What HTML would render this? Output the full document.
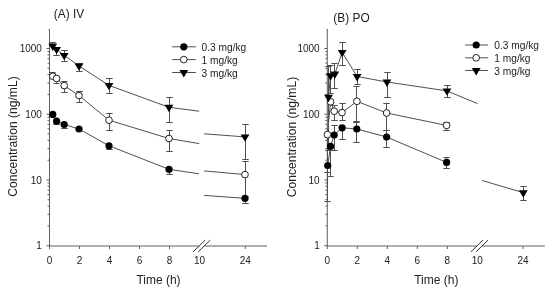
<!DOCTYPE html>
<html><head><meta charset="utf-8"><style>
html,body{margin:0;padding:0;background:#fff;}
svg{display:block;}
text{font-family:"Liberation Sans", Arial, Helvetica, sans-serif;fill:#222;}
</style></head><body>
<svg width="550" height="292" viewBox="0 0 550 292">
<rect width="550" height="292" fill="#fff"/>
<text x="53.8" y="17.6" font-size="11.9">(A) IV</text>
<line x1="49.5" y1="29.2" x2="49.5" y2="246.4" stroke="#606060" stroke-width="1"/>
<line x1="46.5" y1="245.70" x2="49.5" y2="245.70" stroke="#606060" stroke-width="1"/>
<line x1="47.5" y1="225.91" x2="49.5" y2="225.91" stroke="#606060" stroke-width="1"/>
<line x1="47.5" y1="214.34" x2="49.5" y2="214.34" stroke="#606060" stroke-width="1"/>
<line x1="47.5" y1="206.13" x2="49.5" y2="206.13" stroke="#606060" stroke-width="1"/>
<line x1="47.5" y1="199.76" x2="49.5" y2="199.76" stroke="#606060" stroke-width="1"/>
<line x1="47.5" y1="194.55" x2="49.5" y2="194.55" stroke="#606060" stroke-width="1"/>
<line x1="47.5" y1="190.15" x2="49.5" y2="190.15" stroke="#606060" stroke-width="1"/>
<line x1="47.5" y1="186.34" x2="49.5" y2="186.34" stroke="#606060" stroke-width="1"/>
<line x1="47.5" y1="182.98" x2="49.5" y2="182.98" stroke="#606060" stroke-width="1"/>
<line x1="46.5" y1="179.97" x2="49.5" y2="179.97" stroke="#606060" stroke-width="1"/>
<line x1="47.5" y1="160.18" x2="49.5" y2="160.18" stroke="#606060" stroke-width="1"/>
<line x1="47.5" y1="148.61" x2="49.5" y2="148.61" stroke="#606060" stroke-width="1"/>
<line x1="47.5" y1="140.40" x2="49.5" y2="140.40" stroke="#606060" stroke-width="1"/>
<line x1="47.5" y1="134.03" x2="49.5" y2="134.03" stroke="#606060" stroke-width="1"/>
<line x1="47.5" y1="128.82" x2="49.5" y2="128.82" stroke="#606060" stroke-width="1"/>
<line x1="47.5" y1="124.42" x2="49.5" y2="124.42" stroke="#606060" stroke-width="1"/>
<line x1="47.5" y1="120.61" x2="49.5" y2="120.61" stroke="#606060" stroke-width="1"/>
<line x1="47.5" y1="117.25" x2="49.5" y2="117.25" stroke="#606060" stroke-width="1"/>
<line x1="46.5" y1="114.24" x2="49.5" y2="114.24" stroke="#606060" stroke-width="1"/>
<line x1="47.5" y1="94.45" x2="49.5" y2="94.45" stroke="#606060" stroke-width="1"/>
<line x1="47.5" y1="82.88" x2="49.5" y2="82.88" stroke="#606060" stroke-width="1"/>
<line x1="47.5" y1="74.67" x2="49.5" y2="74.67" stroke="#606060" stroke-width="1"/>
<line x1="47.5" y1="68.30" x2="49.5" y2="68.30" stroke="#606060" stroke-width="1"/>
<line x1="47.5" y1="63.09" x2="49.5" y2="63.09" stroke="#606060" stroke-width="1"/>
<line x1="47.5" y1="58.69" x2="49.5" y2="58.69" stroke="#606060" stroke-width="1"/>
<line x1="47.5" y1="54.88" x2="49.5" y2="54.88" stroke="#606060" stroke-width="1"/>
<line x1="47.5" y1="51.52" x2="49.5" y2="51.52" stroke="#606060" stroke-width="1"/>
<line x1="46.5" y1="48.51" x2="49.5" y2="48.51" stroke="#606060" stroke-width="1"/>
<line x1="48.5" y1="29.70" x2="49.5" y2="29.70" stroke="#606060" stroke-width="1"/>
<text x="41.9" y="249.30" text-anchor="end" font-size="10">1</text>
<text x="41.9" y="183.57" text-anchor="end" font-size="10">10</text>
<text x="41.9" y="117.84" text-anchor="end" font-size="10">100</text>
<text x="41.9" y="52.11" text-anchor="end" font-size="10">1000</text>
<line x1="49.5" y1="246" x2="199.1" y2="246" stroke="#606060" stroke-width="1"/>
<line x1="204.2" y1="246" x2="267" y2="246" stroke="#606060" stroke-width="1"/>
<line x1="49.5" y1="246" x2="49.5" y2="249" stroke="#606060" stroke-width="1"/>
<line x1="79.5" y1="246" x2="79.5" y2="249" stroke="#606060" stroke-width="1"/>
<line x1="109.5" y1="246" x2="109.5" y2="249" stroke="#606060" stroke-width="1"/>
<line x1="139.5" y1="246" x2="139.5" y2="249" stroke="#606060" stroke-width="1"/>
<line x1="169.5" y1="246" x2="169.5" y2="249" stroke="#606060" stroke-width="1"/>
<line x1="245.3" y1="246" x2="245.3" y2="249" stroke="#606060" stroke-width="1"/>
<line x1="193.1" y1="251.9" x2="205.1" y2="240.1" stroke="#333" stroke-width="1"/>
<line x1="198.2" y1="251.9" x2="210.2" y2="240.1" stroke="#333" stroke-width="1"/>
<text x="49.5" y="263.6" text-anchor="middle" font-size="10">0</text>
<text x="79.5" y="263.6" text-anchor="middle" font-size="10">2</text>
<text x="109.5" y="263.6" text-anchor="middle" font-size="10">4</text>
<text x="139.5" y="263.6" text-anchor="middle" font-size="10">6</text>
<text x="169.5" y="263.6" text-anchor="middle" font-size="10">8</text>
<text x="199.5" y="263.6" text-anchor="middle" font-size="10">10</text>
<text x="245.3" y="263.6" text-anchor="middle" font-size="10">24</text>
<text x="158.5" y="283.6" text-anchor="middle" font-size="12">Time (h)</text>
<text transform="translate(17.2,136.5) rotate(-90)" text-anchor="middle" font-size="12.1">Concentration (ng/mL)</text>
<polyline points="52.80,114.40 56.60,121.20 64.20,124.50 79.00,129.00 109.00,145.80 169.00,169.30 199.10,173.80" fill="none" stroke="#505050" stroke-width="1"/>
<polyline points="204.10,195.40 245.00,198.30" fill="none" stroke="#505050" stroke-width="1"/>
<polyline points="52.80,76.30 56.60,78.50 64.20,85.60 79.00,95.50 109.00,120.20 169.00,138.50 199.10,143.60" fill="none" stroke="#505050" stroke-width="1"/>
<polyline points="204.10,170.90 245.00,174.60" fill="none" stroke="#505050" stroke-width="1"/>
<polyline points="52.80,46.00 56.60,49.40 64.20,55.40 79.00,65.90 109.00,85.40 169.00,107.30 199.10,111.20" fill="none" stroke="#505050" stroke-width="1"/>
<polyline points="204.10,133.80 245.00,136.90" fill="none" stroke="#505050" stroke-width="1"/>
<line x1="52.5" y1="42.6" x2="52.5" y2="46.0" stroke="#505050" stroke-width="1"/>
<line x1="49.30" y1="42.5" x2="55.70" y2="42.5" stroke="#505050" stroke-width="1"/>
<line x1="52.5" y1="72.3" x2="52.5" y2="76.3" stroke="#505050" stroke-width="1"/>
<line x1="49.30" y1="72.5" x2="55.70" y2="72.5" stroke="#505050" stroke-width="1"/>
<line x1="56.5" y1="49.4" x2="56.5" y2="55.6" stroke="#505050" stroke-width="1"/>
<line x1="53.30" y1="55.5" x2="59.70" y2="55.5" stroke="#505050" stroke-width="1"/>
<line x1="56.5" y1="78.5" x2="56.5" y2="83.6" stroke="#505050" stroke-width="1"/>
<line x1="53.30" y1="83.5" x2="59.70" y2="83.5" stroke="#505050" stroke-width="1"/>
<line x1="56.5" y1="121.2" x2="56.5" y2="124.9" stroke="#505050" stroke-width="1"/>
<line x1="53.30" y1="124.5" x2="59.70" y2="124.5" stroke="#505050" stroke-width="1"/>
<line x1="64.5" y1="50.5" x2="64.5" y2="61.2" stroke="#505050" stroke-width="1"/>
<line x1="61.30" y1="50.5" x2="67.70" y2="50.5" stroke="#505050" stroke-width="1"/>
<line x1="61.30" y1="61.5" x2="67.70" y2="61.5" stroke="#505050" stroke-width="1"/>
<line x1="64.5" y1="81.7" x2="64.5" y2="92.0" stroke="#505050" stroke-width="1"/>
<line x1="61.30" y1="81.5" x2="67.70" y2="81.5" stroke="#505050" stroke-width="1"/>
<line x1="61.30" y1="92.5" x2="67.70" y2="92.5" stroke="#505050" stroke-width="1"/>
<line x1="64.5" y1="124.5" x2="64.5" y2="128.3" stroke="#505050" stroke-width="1"/>
<line x1="61.30" y1="128.5" x2="67.70" y2="128.5" stroke="#505050" stroke-width="1"/>
<line x1="79.5" y1="63.2" x2="79.5" y2="71.8" stroke="#505050" stroke-width="1"/>
<line x1="76.30" y1="63.5" x2="82.70" y2="63.5" stroke="#505050" stroke-width="1"/>
<line x1="76.30" y1="71.5" x2="82.70" y2="71.5" stroke="#505050" stroke-width="1"/>
<line x1="79.5" y1="91.7" x2="79.5" y2="102.0" stroke="#505050" stroke-width="1"/>
<line x1="76.30" y1="91.5" x2="82.70" y2="91.5" stroke="#505050" stroke-width="1"/>
<line x1="76.30" y1="102.5" x2="82.70" y2="102.5" stroke="#505050" stroke-width="1"/>
<line x1="109.5" y1="78.6" x2="109.5" y2="93.8" stroke="#505050" stroke-width="1"/>
<line x1="106.30" y1="78.5" x2="112.70" y2="78.5" stroke="#505050" stroke-width="1"/>
<line x1="106.30" y1="93.5" x2="112.70" y2="93.5" stroke="#505050" stroke-width="1"/>
<line x1="109.5" y1="113.5" x2="109.5" y2="130.7" stroke="#505050" stroke-width="1"/>
<line x1="106.30" y1="113.5" x2="112.70" y2="113.5" stroke="#505050" stroke-width="1"/>
<line x1="106.30" y1="130.5" x2="112.70" y2="130.5" stroke="#505050" stroke-width="1"/>
<line x1="109.5" y1="145.8" x2="109.5" y2="149.5" stroke="#505050" stroke-width="1"/>
<line x1="106.30" y1="149.5" x2="112.70" y2="149.5" stroke="#505050" stroke-width="1"/>
<line x1="169.5" y1="97.9" x2="169.5" y2="122.5" stroke="#505050" stroke-width="1"/>
<line x1="166.30" y1="97.5" x2="172.70" y2="97.5" stroke="#505050" stroke-width="1"/>
<line x1="166.30" y1="122.5" x2="172.70" y2="122.5" stroke="#505050" stroke-width="1"/>
<line x1="169.5" y1="130.3" x2="169.5" y2="151.2" stroke="#505050" stroke-width="1"/>
<line x1="166.30" y1="130.5" x2="172.70" y2="130.5" stroke="#505050" stroke-width="1"/>
<line x1="166.30" y1="151.5" x2="172.70" y2="151.5" stroke="#505050" stroke-width="1"/>
<line x1="169.5" y1="169.3" x2="169.5" y2="174.8" stroke="#505050" stroke-width="1"/>
<line x1="166.30" y1="174.5" x2="172.70" y2="174.5" stroke="#505050" stroke-width="1"/>
<line x1="245.5" y1="124.8" x2="245.5" y2="159.3" stroke="#505050" stroke-width="1"/>
<line x1="242.30" y1="124.5" x2="248.70" y2="124.5" stroke="#505050" stroke-width="1"/>
<line x1="242.30" y1="159.5" x2="248.70" y2="159.5" stroke="#505050" stroke-width="1"/>
<line x1="245.5" y1="161.3" x2="245.5" y2="196.0" stroke="#505050" stroke-width="1"/>
<line x1="242.30" y1="161.5" x2="248.70" y2="161.5" stroke="#505050" stroke-width="1"/>
<line x1="242.30" y1="196.5" x2="248.70" y2="196.5" stroke="#505050" stroke-width="1"/>
<line x1="245.5" y1="198.3" x2="245.5" y2="203.5" stroke="#505050" stroke-width="1"/>
<line x1="242.30" y1="203.5" x2="248.70" y2="203.5" stroke="#505050" stroke-width="1"/>
<circle cx="52.8" cy="114.4" r="3.6" fill="#000"/>
<circle cx="56.6" cy="121.2" r="3.6" fill="#000"/>
<circle cx="64.2" cy="124.5" r="3.6" fill="#000"/>
<circle cx="79.0" cy="129.0" r="3.6" fill="#000"/>
<circle cx="109.0" cy="145.8" r="3.6" fill="#000"/>
<circle cx="169.0" cy="169.3" r="3.6" fill="#000"/>
<circle cx="245.0" cy="198.3" r="3.6" fill="#000"/>
<circle cx="52.8" cy="76.3" r="3.35" fill="#fff" stroke="#222" stroke-width="1"/>
<circle cx="56.6" cy="78.5" r="3.35" fill="#fff" stroke="#222" stroke-width="1"/>
<circle cx="64.2" cy="85.6" r="3.35" fill="#fff" stroke="#222" stroke-width="1"/>
<circle cx="79.0" cy="95.5" r="3.35" fill="#fff" stroke="#222" stroke-width="1"/>
<circle cx="109.0" cy="120.2" r="3.35" fill="#fff" stroke="#222" stroke-width="1"/>
<circle cx="169.0" cy="138.5" r="3.35" fill="#fff" stroke="#222" stroke-width="1"/>
<circle cx="245.0" cy="174.6" r="3.35" fill="#fff" stroke="#222" stroke-width="1"/>
<polygon points="48.40,43.53 57.20,43.53 52.80,50.93" fill="#000"/>
<polygon points="52.20,46.93 61.00,46.93 56.60,54.33" fill="#000"/>
<polygon points="59.80,52.93 68.60,52.93 64.20,60.33" fill="#000"/>
<polygon points="74.60,63.43 83.40,63.43 79.00,70.83" fill="#000"/>
<polygon points="104.60,82.93 113.40,82.93 109.00,90.33" fill="#000"/>
<polygon points="164.60,104.83 173.40,104.83 169.00,112.23" fill="#000"/>
<polygon points="240.60,134.43 249.40,134.43 245.00,141.83" fill="#000"/>
<line x1="172.1" y1="46.8" x2="195.9" y2="46.8" stroke="#505050" stroke-width="1"/>
<circle cx="183.8" cy="46.8" r="3.6" fill="#000"/>
<text x="201.5" y="50.80" font-size="10.2">0.3 mg/kg</text>
<line x1="172.1" y1="59.6" x2="195.9" y2="59.6" stroke="#505050" stroke-width="1"/>
<circle cx="183.8" cy="59.6" r="3.35" fill="#fff" stroke="#222" stroke-width="1"/>
<text x="201.5" y="63.60" font-size="10.2">1 mg/kg</text>
<line x1="172.1" y1="72.5" x2="195.9" y2="72.5" stroke="#505050" stroke-width="1"/>
<polygon points="179.40,70.03 188.20,70.03 183.80,77.43" fill="#000"/>
<text x="201.5" y="76.50" font-size="10.2">3 mg/kg</text>
<text x="333.3" y="21.5" font-size="11.9">(B) PO</text>
<line x1="327.3" y1="29.2" x2="327.3" y2="246.4" stroke="#606060" stroke-width="1"/>
<line x1="324.3" y1="245.70" x2="327.3" y2="245.70" stroke="#606060" stroke-width="1"/>
<line x1="325.3" y1="225.91" x2="327.3" y2="225.91" stroke="#606060" stroke-width="1"/>
<line x1="325.3" y1="214.34" x2="327.3" y2="214.34" stroke="#606060" stroke-width="1"/>
<line x1="325.3" y1="206.13" x2="327.3" y2="206.13" stroke="#606060" stroke-width="1"/>
<line x1="325.3" y1="199.76" x2="327.3" y2="199.76" stroke="#606060" stroke-width="1"/>
<line x1="325.3" y1="194.55" x2="327.3" y2="194.55" stroke="#606060" stroke-width="1"/>
<line x1="325.3" y1="190.15" x2="327.3" y2="190.15" stroke="#606060" stroke-width="1"/>
<line x1="325.3" y1="186.34" x2="327.3" y2="186.34" stroke="#606060" stroke-width="1"/>
<line x1="325.3" y1="182.98" x2="327.3" y2="182.98" stroke="#606060" stroke-width="1"/>
<line x1="324.3" y1="179.97" x2="327.3" y2="179.97" stroke="#606060" stroke-width="1"/>
<line x1="325.3" y1="160.18" x2="327.3" y2="160.18" stroke="#606060" stroke-width="1"/>
<line x1="325.3" y1="148.61" x2="327.3" y2="148.61" stroke="#606060" stroke-width="1"/>
<line x1="325.3" y1="140.40" x2="327.3" y2="140.40" stroke="#606060" stroke-width="1"/>
<line x1="325.3" y1="134.03" x2="327.3" y2="134.03" stroke="#606060" stroke-width="1"/>
<line x1="325.3" y1="128.82" x2="327.3" y2="128.82" stroke="#606060" stroke-width="1"/>
<line x1="325.3" y1="124.42" x2="327.3" y2="124.42" stroke="#606060" stroke-width="1"/>
<line x1="325.3" y1="120.61" x2="327.3" y2="120.61" stroke="#606060" stroke-width="1"/>
<line x1="325.3" y1="117.25" x2="327.3" y2="117.25" stroke="#606060" stroke-width="1"/>
<line x1="324.3" y1="114.24" x2="327.3" y2="114.24" stroke="#606060" stroke-width="1"/>
<line x1="325.3" y1="94.45" x2="327.3" y2="94.45" stroke="#606060" stroke-width="1"/>
<line x1="325.3" y1="82.88" x2="327.3" y2="82.88" stroke="#606060" stroke-width="1"/>
<line x1="325.3" y1="74.67" x2="327.3" y2="74.67" stroke="#606060" stroke-width="1"/>
<line x1="325.3" y1="68.30" x2="327.3" y2="68.30" stroke="#606060" stroke-width="1"/>
<line x1="325.3" y1="63.09" x2="327.3" y2="63.09" stroke="#606060" stroke-width="1"/>
<line x1="325.3" y1="58.69" x2="327.3" y2="58.69" stroke="#606060" stroke-width="1"/>
<line x1="325.3" y1="54.88" x2="327.3" y2="54.88" stroke="#606060" stroke-width="1"/>
<line x1="325.3" y1="51.52" x2="327.3" y2="51.52" stroke="#606060" stroke-width="1"/>
<line x1="324.3" y1="48.51" x2="327.3" y2="48.51" stroke="#606060" stroke-width="1"/>
<line x1="326.3" y1="29.70" x2="327.3" y2="29.70" stroke="#606060" stroke-width="1"/>
<text x="319.7" y="249.30" text-anchor="end" font-size="10">1</text>
<text x="319.7" y="183.57" text-anchor="end" font-size="10">10</text>
<text x="319.7" y="117.84" text-anchor="end" font-size="10">100</text>
<text x="319.7" y="52.11" text-anchor="end" font-size="10">1000</text>
<line x1="327.3" y1="246" x2="476.9" y2="246" stroke="#606060" stroke-width="1"/>
<line x1="482.0" y1="246" x2="544.8" y2="246" stroke="#606060" stroke-width="1"/>
<line x1="327.3" y1="246" x2="327.3" y2="249" stroke="#606060" stroke-width="1"/>
<line x1="357.3" y1="246" x2="357.3" y2="249" stroke="#606060" stroke-width="1"/>
<line x1="387.3" y1="246" x2="387.3" y2="249" stroke="#606060" stroke-width="1"/>
<line x1="417.3" y1="246" x2="417.3" y2="249" stroke="#606060" stroke-width="1"/>
<line x1="447.3" y1="246" x2="447.3" y2="249" stroke="#606060" stroke-width="1"/>
<line x1="523.1" y1="246" x2="523.1" y2="249" stroke="#606060" stroke-width="1"/>
<line x1="470.9" y1="251.9" x2="482.9" y2="240.1" stroke="#333" stroke-width="1"/>
<line x1="476.0" y1="251.9" x2="488.0" y2="240.1" stroke="#333" stroke-width="1"/>
<text x="327.3" y="263.6" text-anchor="middle" font-size="10">0</text>
<text x="357.3" y="263.6" text-anchor="middle" font-size="10">2</text>
<text x="387.3" y="263.6" text-anchor="middle" font-size="10">4</text>
<text x="417.3" y="263.6" text-anchor="middle" font-size="10">6</text>
<text x="447.3" y="263.6" text-anchor="middle" font-size="10">8</text>
<text x="477.3" y="263.6" text-anchor="middle" font-size="10">10</text>
<text x="523.1" y="263.6" text-anchor="middle" font-size="10">24</text>
<text x="436.3" y="283.6" text-anchor="middle" font-size="12">Time (h)</text>
<text transform="translate(296.4,137) rotate(-90)" text-anchor="middle" font-size="12.1">Concentration (ng/mL)</text>
<polyline points="327.70,165.50 330.50,146.40 334.20,135.00 342.10,127.80 356.80,129.00 386.60,137.00 446.60,162.40" fill="none" stroke="#505050" stroke-width="1"/>
<polyline points="327.40,134.60 330.60,101.80 334.20,111.20 342.00,112.60 356.90,101.30 386.60,113.00 446.60,125.40" fill="none" stroke="#505050" stroke-width="1"/>
<polyline points="328.50,97.30 330.50,75.70 334.80,74.00 342.20,52.40 357.10,76.50 387.00,82.00 447.00,90.90 477.50,103.60" fill="none" stroke="#505050" stroke-width="1"/>
<polyline points="482.20,180.50 523.30,192.70" fill="none" stroke="#505050" stroke-width="1"/>
<line x1="328.5" y1="66.0" x2="328.5" y2="150.5" stroke="#505050" stroke-width="1"/>
<line x1="325.30" y1="66.5" x2="331.70" y2="66.5" stroke="#505050" stroke-width="1"/>
<line x1="325.30" y1="150.5" x2="331.70" y2="150.5" stroke="#505050" stroke-width="1"/>
<line x1="330.5" y1="65.2" x2="330.5" y2="93.0" stroke="#505050" stroke-width="1"/>
<line x1="327.30" y1="65.5" x2="333.70" y2="65.5" stroke="#505050" stroke-width="1"/>
<line x1="327.30" y1="93.5" x2="333.70" y2="93.5" stroke="#505050" stroke-width="1"/>
<line x1="334.5" y1="63.8" x2="334.5" y2="88.6" stroke="#505050" stroke-width="1"/>
<line x1="331.30" y1="63.5" x2="337.70" y2="63.5" stroke="#505050" stroke-width="1"/>
<line x1="331.30" y1="88.5" x2="337.70" y2="88.5" stroke="#505050" stroke-width="1"/>
<line x1="342.5" y1="42.9" x2="342.5" y2="65.8" stroke="#505050" stroke-width="1"/>
<line x1="339.30" y1="42.5" x2="345.70" y2="42.5" stroke="#505050" stroke-width="1"/>
<line x1="339.30" y1="65.5" x2="345.70" y2="65.5" stroke="#505050" stroke-width="1"/>
<line x1="357.5" y1="69.9" x2="357.5" y2="84.6" stroke="#505050" stroke-width="1"/>
<line x1="354.30" y1="69.5" x2="360.70" y2="69.5" stroke="#505050" stroke-width="1"/>
<line x1="354.30" y1="84.5" x2="360.70" y2="84.5" stroke="#505050" stroke-width="1"/>
<line x1="387.5" y1="72.3" x2="387.5" y2="97.0" stroke="#505050" stroke-width="1"/>
<line x1="384.30" y1="72.5" x2="390.70" y2="72.5" stroke="#505050" stroke-width="1"/>
<line x1="384.30" y1="97.5" x2="390.70" y2="97.5" stroke="#505050" stroke-width="1"/>
<line x1="447.5" y1="85.4" x2="447.5" y2="97.7" stroke="#505050" stroke-width="1"/>
<line x1="444.30" y1="85.5" x2="450.70" y2="85.5" stroke="#505050" stroke-width="1"/>
<line x1="444.30" y1="97.5" x2="450.70" y2="97.5" stroke="#505050" stroke-width="1"/>
<line x1="523.5" y1="186.7" x2="523.5" y2="200.0" stroke="#505050" stroke-width="1"/>
<line x1="520.30" y1="186.5" x2="526.70" y2="186.5" stroke="#505050" stroke-width="1"/>
<line x1="520.30" y1="200.5" x2="526.70" y2="200.5" stroke="#505050" stroke-width="1"/>
<line x1="327.5" y1="134.6" x2="327.5" y2="172.0" stroke="#505050" stroke-width="1"/>
<line x1="324.30" y1="172.5" x2="330.70" y2="172.5" stroke="#505050" stroke-width="1"/>
<line x1="334.5" y1="105.3" x2="334.5" y2="120.3" stroke="#505050" stroke-width="1"/>
<line x1="331.30" y1="105.5" x2="337.70" y2="105.5" stroke="#505050" stroke-width="1"/>
<line x1="331.30" y1="120.5" x2="337.70" y2="120.5" stroke="#505050" stroke-width="1"/>
<line x1="342.5" y1="103.3" x2="342.5" y2="120.3" stroke="#505050" stroke-width="1"/>
<line x1="339.30" y1="103.5" x2="345.70" y2="103.5" stroke="#505050" stroke-width="1"/>
<line x1="339.30" y1="120.5" x2="345.70" y2="120.5" stroke="#505050" stroke-width="1"/>
<line x1="356.5" y1="86.3" x2="356.5" y2="121.6" stroke="#505050" stroke-width="1"/>
<line x1="353.30" y1="86.5" x2="359.70" y2="86.5" stroke="#505050" stroke-width="1"/>
<line x1="353.30" y1="121.5" x2="359.70" y2="121.5" stroke="#505050" stroke-width="1"/>
<line x1="386.5" y1="103.3" x2="386.5" y2="130.4" stroke="#505050" stroke-width="1"/>
<line x1="383.30" y1="103.5" x2="389.70" y2="103.5" stroke="#505050" stroke-width="1"/>
<line x1="383.30" y1="130.5" x2="389.70" y2="130.5" stroke="#505050" stroke-width="1"/>
<line x1="446.5" y1="122.7" x2="446.5" y2="130.1" stroke="#505050" stroke-width="1"/>
<line x1="443.30" y1="122.5" x2="449.70" y2="122.5" stroke="#505050" stroke-width="1"/>
<line x1="443.30" y1="130.5" x2="449.70" y2="130.5" stroke="#505050" stroke-width="1"/>
<line x1="327.5" y1="165.5" x2="327.5" y2="201.5" stroke="#505050" stroke-width="1"/>
<line x1="324.30" y1="201.5" x2="330.70" y2="201.5" stroke="#505050" stroke-width="1"/>
<line x1="330.5" y1="146.4" x2="330.5" y2="176.2" stroke="#505050" stroke-width="1"/>
<line x1="327.30" y1="176.5" x2="333.70" y2="176.5" stroke="#505050" stroke-width="1"/>
<line x1="334.5" y1="125.9" x2="334.5" y2="150.6" stroke="#505050" stroke-width="1"/>
<line x1="331.30" y1="125.5" x2="337.70" y2="125.5" stroke="#505050" stroke-width="1"/>
<line x1="331.30" y1="150.5" x2="337.70" y2="150.5" stroke="#505050" stroke-width="1"/>
<line x1="342.5" y1="127.8" x2="342.5" y2="139.2" stroke="#505050" stroke-width="1"/>
<line x1="339.30" y1="139.5" x2="345.70" y2="139.5" stroke="#505050" stroke-width="1"/>
<line x1="356.5" y1="122.2" x2="356.5" y2="142.1" stroke="#505050" stroke-width="1"/>
<line x1="353.30" y1="122.5" x2="359.70" y2="122.5" stroke="#505050" stroke-width="1"/>
<line x1="353.30" y1="142.5" x2="359.70" y2="142.5" stroke="#505050" stroke-width="1"/>
<line x1="386.5" y1="130.4" x2="386.5" y2="147.6" stroke="#505050" stroke-width="1"/>
<line x1="383.30" y1="130.5" x2="389.70" y2="130.5" stroke="#505050" stroke-width="1"/>
<line x1="383.30" y1="147.5" x2="389.70" y2="147.5" stroke="#505050" stroke-width="1"/>
<line x1="446.5" y1="157.6" x2="446.5" y2="168.5" stroke="#505050" stroke-width="1"/>
<line x1="443.30" y1="157.5" x2="449.70" y2="157.5" stroke="#505050" stroke-width="1"/>
<line x1="443.30" y1="168.5" x2="449.70" y2="168.5" stroke="#505050" stroke-width="1"/>
<circle cx="327.7" cy="165.5" r="3.6" fill="#000"/>
<circle cx="330.5" cy="146.4" r="3.6" fill="#000"/>
<circle cx="334.2" cy="135.0" r="3.6" fill="#000"/>
<circle cx="342.1" cy="127.8" r="3.6" fill="#000"/>
<circle cx="356.8" cy="129.0" r="3.6" fill="#000"/>
<circle cx="386.6" cy="137.0" r="3.6" fill="#000"/>
<circle cx="446.6" cy="162.4" r="3.6" fill="#000"/>
<circle cx="327.4" cy="134.6" r="3.35" fill="#fff" stroke="#222" stroke-width="1"/>
<circle cx="330.6" cy="101.8" r="3.35" fill="#fff" stroke="#222" stroke-width="1"/>
<circle cx="334.2" cy="111.2" r="3.35" fill="#fff" stroke="#222" stroke-width="1"/>
<circle cx="342.0" cy="112.6" r="3.35" fill="#fff" stroke="#222" stroke-width="1"/>
<circle cx="356.9" cy="101.3" r="3.35" fill="#fff" stroke="#222" stroke-width="1"/>
<circle cx="386.6" cy="113.0" r="3.35" fill="#fff" stroke="#222" stroke-width="1"/>
<circle cx="446.6" cy="125.4" r="3.35" fill="#fff" stroke="#222" stroke-width="1"/>
<polygon points="324.10,94.83 332.90,94.83 328.50,102.23" fill="#000"/>
<polygon points="326.10,73.23 334.90,73.23 330.50,80.63" fill="#000"/>
<polygon points="330.40,71.53 339.20,71.53 334.80,78.93" fill="#000"/>
<polygon points="337.80,49.93 346.60,49.93 342.20,57.33" fill="#000"/>
<polygon points="352.70,74.03 361.50,74.03 357.10,81.43" fill="#000"/>
<polygon points="382.60,79.53 391.40,79.53 387.00,86.93" fill="#000"/>
<polygon points="442.60,88.43 451.40,88.43 447.00,95.83" fill="#000"/>
<polygon points="518.90,190.23 527.70,190.23 523.30,197.63" fill="#000"/>
<line x1="465.1" y1="45.0" x2="488.0" y2="45.0" stroke="#505050" stroke-width="1"/>
<circle cx="476.2" cy="45.0" r="3.6" fill="#000"/>
<text x="494.3" y="49.00" font-size="10.2">0.3 mg/kg</text>
<line x1="465.1" y1="57.8" x2="488.0" y2="57.8" stroke="#505050" stroke-width="1"/>
<circle cx="476.2" cy="57.8" r="3.35" fill="#fff" stroke="#222" stroke-width="1"/>
<text x="494.3" y="61.80" font-size="10.2">1 mg/kg</text>
<line x1="465.1" y1="70.5" x2="488.0" y2="70.5" stroke="#505050" stroke-width="1"/>
<polygon points="471.80,68.03 480.60,68.03 476.20,75.43" fill="#000"/>
<text x="494.3" y="74.50" font-size="10.2">3 mg/kg</text>
</svg>
</body></html>
